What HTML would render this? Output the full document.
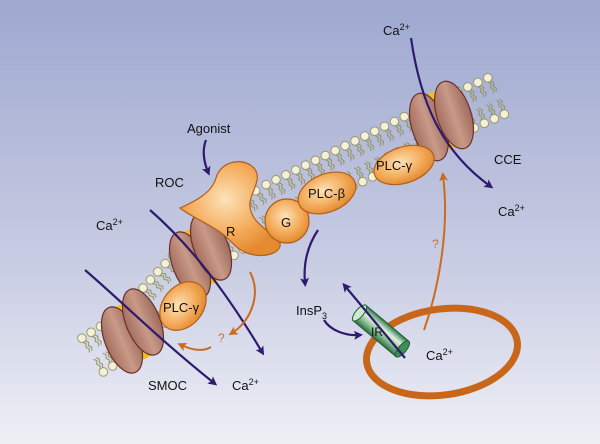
<!DOCTYPE html>
<html><head><meta charset="utf-8"><style>
html,body{margin:0;padding:0;width:600px;height:444px;overflow:hidden}
svg{display:block}
text{font-family:"Liberation Sans",sans-serif;font-size:13px;fill:#111}
</style></head><body>
<svg width="600" height="444" viewBox="0 0 600 444" xmlns="http://www.w3.org/2000/svg">
<defs>
<linearGradient id="bg" x1="0" y1="0" x2="0" y2="1">
<stop offset="0" stop-color="#9ea8d0"/><stop offset="0.6" stop-color="#c9cde3"/><stop offset="1" stop-color="#eef0f6"/></linearGradient>
<radialGradient id="og" cx="0.45" cy="0.4" r="0.6"><stop offset="0" stop-color="#fde2b8"/><stop offset="0.6" stop-color="#f4ad5e"/><stop offset="1" stop-color="#e48a30"/></radialGradient>
<linearGradient id="br" x1="0" y1="0" x2="1" y2="0"><stop offset="0" stop-color="#a56e5f"/><stop offset="0.5" stop-color="#c99a88"/><stop offset="1" stop-color="#9e6a5c"/></linearGradient>
<linearGradient id="gr" x1="0" y1="0" x2="0" y2="1"><stop offset="0" stop-color="#2f7a4a"/><stop offset="0.35" stop-color="#dff0dc"/><stop offset="0.7" stop-color="#7fb88a"/><stop offset="1" stop-color="#2a6e42"/></linearGradient>
<pattern id="lp" patternUnits="userSpaceOnUse" x="0" y="-26" width="11" height="52">
<g fill="none" stroke="#8f8f55" stroke-width="1">
<path d="M4,10 L6,13 L4,16 L6,19 L4,22"/><path d="M7,10 L9,13 L7,16 L9,19 L7,22"/>
<path d="M4,42 L6,39 L4,36 L6,33 L4,30"/><path d="M7,42 L9,39 L7,36 L9,33 L7,30"/>
</g>
<circle cx="5.5" cy="6" r="4.3" fill="#f4f1d8" stroke="#8a8a5a" stroke-width="0.8"/>
<circle cx="5.5" cy="46" r="4.3" fill="#f4f1d8" stroke="#8a8a5a" stroke-width="0.8"/>
</pattern>
<marker id="ap" markerWidth="9" markerHeight="9" refX="5" refY="4.5" orient="auto" markerUnits="userSpaceOnUse"><path d="M0,0 L9,4.5 L0,9 L2,4.5Z" fill="#2e1a6e"/></marker>
<marker id="ao" markerWidth="9" markerHeight="9" refX="5" refY="4.5" orient="auto" markerUnits="userSpaceOnUse"><path d="M0,0 L9,4.5 L0,9 L2,4.5Z" fill="#cc6a20"/></marker>
</defs>
<rect width="600" height="444" fill="url(#bg)"/>
<g fill="url(#lp)">
<rect x="0" y="-26" width="53" height="52" transform="translate(88,358) rotate(-32.5)"/>
<rect x="0" y="-26" width="102" height="52" transform="translate(132,330) rotate(-47.8)"/>
<rect x="0" y="-26" width="87" height="52" transform="translate(200,255) rotate(-35.5)"/>
<rect x="0" y="-26" width="191" height="52" transform="translate(270,205) rotate(-26.2)"/>
<rect x="0" y="-26" width="66" height="52" transform="translate(441,121) rotate(-24.4)"/>
</g>
<ellipse cx="442" cy="352" rx="76" ry="43" transform="rotate(-8 442 352)" fill="none" stroke="#c8661a" stroke-width="7"/>
<g transform="translate(132,332)">
<ellipse cx="0" cy="0" rx="26" ry="30" transform="rotate(-35)" fill="#f0c020"/>
<ellipse cx="-10" cy="8" rx="17" ry="35" transform="rotate(-22 -10 8)" fill="url(#br)" stroke="#6a3030" stroke-width="1.2"/>
<ellipse cx="11" cy="-10" rx="17" ry="35" transform="rotate(-22 11 -10)" fill="url(#br)" stroke="#6a3030" stroke-width="1.2"/>
</g>
<g transform="translate(200,257)">
<ellipse cx="0" cy="0" rx="26" ry="30" transform="rotate(-40)" fill="#f0c020"/>
<ellipse cx="-10" cy="8" rx="17" ry="35" transform="rotate(-22 -10 8)" fill="url(#br)" stroke="#6a3030" stroke-width="1.2"/>
<ellipse cx="11" cy="-10" rx="17" ry="35" transform="rotate(-22 11 -10)" fill="url(#br)" stroke="#6a3030" stroke-width="1.2"/>
</g>
<g transform="translate(441,121)">
<ellipse cx="0" cy="0" rx="26" ry="30" transform="rotate(-28)" fill="#f0c020"/>
<ellipse cx="-12" cy="6" rx="17" ry="35" transform="rotate(-18 -12 6)" fill="url(#br)" stroke="#6a3030" stroke-width="1.2"/>
<ellipse cx="13" cy="-6" rx="17" ry="35" transform="rotate(-18 13 -6)" fill="url(#br)" stroke="#6a3030" stroke-width="1.2"/>
</g>
<g stroke="#b0601c" stroke-width="1.2" fill="url(#og)">
<ellipse cx="183" cy="306" rx="27" ry="20" transform="rotate(-50 183 306)"/>
<path d="M180,208 C198,200 212,192 216,178 C220,162 242,156 254,168 C264,180 248,194 250,207 C252,224 270,230 280,243 C282,253 265,258 250,254 C235,250 232,240 220,232 C205,222 190,216 180,208Z"/>
<circle cx="287" cy="221" r="22"/>
<ellipse cx="327" cy="193" rx="30" ry="19" transform="rotate(-22 327 193)"/>
<ellipse cx="404" cy="165" rx="31" ry="18" transform="rotate(-18 404 165)"/>
</g>
<text x="226" y="236">R</text>
<text x="281" y="227">G</text>
<text x="308" y="198">PLC-β</text>
<text x="376" y="170">PLC-γ</text>
<text x="163" y="312">PLC-γ</text>
<g transform="translate(381,331) rotate(40)">
<rect x="-28" y="-10" width="56" height="20" fill="url(#gr)" stroke="#1f5a34" stroke-width="1"/>
<ellipse cx="28" cy="0" rx="4" ry="10" fill="#3f8d5a" stroke="#1f5a34"/>
<ellipse cx="-28" cy="0" rx="4" ry="10" fill="#cfe9cf" stroke="#1f5a34"/>
</g>
<text x="371" y="336" style="font-size:12px">IR</text>
<g fill="none" stroke="#2e1a6e" stroke-width="2.2">
<path d="M206,140 C202,150 204,162 208,172" marker-end="url(#ap)"/>
<path d="M150,210 C190,245 225,290 262,352" marker-end="url(#ap)"/>
<path d="M85,270 C120,300 160,340 214,383" marker-end="url(#ap)"/>
<path d="M411,38 C420,100 440,150 490,186" marker-end="url(#ap)"/>
<path d="M318,230 C308,245 303,262 305,283" marker-end="url(#ap)"/>
<path d="M324,320 C330,330 345,336 359,335" marker-end="url(#ap)"/>
<path d="M405,358 L345,286" marker-end="url(#ap)"/>
</g>
<g fill="none" stroke="#cc6a20" stroke-width="2">
<path d="M424,330 C438,290 450,230 443,176" marker-end="url(#ao)"/>
<path d="M250,272 C262,295 250,322 232,333" marker-end="url(#ao)"/>
<path d="M211,347 C203,352 192,350 181,345" marker-end="url(#ao)"/>
</g>
<text x="432" y="248" style="fill:#c9712e;font-size:12px">?</text>
<text x="218" y="342" style="fill:#c9712e;font-size:12px">?</text>
<text x="187" y="133">Agonist</text>
<text x="155" y="187">ROC</text>
<text x="96" y="230">Ca<tspan style="font-size:9px" dy="-5">2+</tspan></text>
<text x="148" y="390">SMOC</text>
<text x="232" y="390">Ca<tspan style="font-size:9px" dy="-5">2+</tspan></text>
<text x="296" y="315">InsP<tspan style="font-size:9px" dy="4">3</tspan></text>
<text x="426" y="360">Ca<tspan style="font-size:9px" dy="-5">2+</tspan></text>
<text x="494" y="164">CCE</text>
<text x="498" y="216">Ca<tspan style="font-size:9px" dy="-5">2+</tspan></text>
<text x="383" y="35">Ca<tspan style="font-size:9px" dy="-5">2+</tspan></text>
</svg>
</body></html>
